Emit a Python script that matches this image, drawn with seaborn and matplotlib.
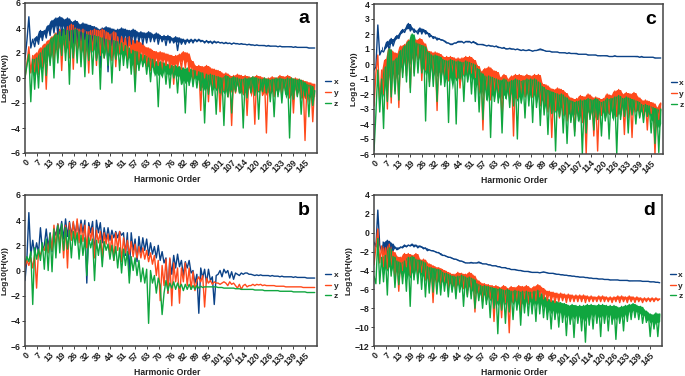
import matplotlib
matplotlib.use("Agg")
import matplotlib.pyplot as plt
import numpy as np
import pandas as pd
import seaborn as sns

# values read per harmonic off the picture
a_x = [1.5,3.0,4.9,2.4,3.1,2.5,3.3,2.7,3.8,3.0,
       3.8,3.2,4.2,3.4,4.6,3.6,4.8,3.5,4.9,3.4,
       4.7,3.5,4.8,3.0,4.5,2.8,4.6,2.7,4.3,3.0,
       4.4,3.1,4.3,2.2,4.2,2.8,4.1,1.6,3.9,0.8,
       4.0,2.4,4.1,0.5,4.0,2.6,3.9,1.4,3.9,2.8,
       4.0,2.9,3.9,2.6,3.8,2.7,3.9,2.8,3.7,2.9,
       3.7,2.7,3.6,2.8,3.7,2.9,3.5,2.9,3.6,2.7,
       3.4,2.9,3.4,2.6,3.4,2.8,3.2,2.8,3.3,2.2,
       3.2,2.7,3.1,2.7,3.1,2.8,3.1,2.8,3.1,2.9,
       3.1,2.9,3.0,2.8,3.0,2.8,2.95,2.75,2.95,2.8,
       2.9,2.8,2.85,2.75,2.85,2.75,2.8,2.7,2.8,2.75,
       2.75,2.7,2.75,2.7,2.7,2.65,2.7,2.65,2.65,2.6,
       2.65,2.6,2.6,2.6,2.6,2.55,2.6,2.55,2.55,2.55,
       2.55,2.5,2.55,2.5,2.5,2.5,2.5,2.5,2.5,2.45,
       2.5,2.45,2.45,2.45,2.45,2.45,2.45,2.4,2.4,2.4,2.4]
a_y = [0.0,1.2,2.5,0.4,1.8,0.5,2.0,0.3,2.4,0.9,
       2.7,-0.9,3.0,1.5,3.3,1.2,3.6,1.6,3.9,0.6,
       3.8,2.0,4.1,1.6,4.3,0.7,4.0,2.0,3.9,1.8,
       3.9,1.0,3.7,0.4,3.8,2.2,3.9,1.0,3.8,1.8,
       3.9,1.6,3.7,2.0,3.5,1.4,3.7,0.9,3.3,2.0,
       3.3,2.2,3.2,1.5,3.3,2.0,3.0,-0.2,3.0,1.2,
       2.8,1.4,2.5,0.9,2.4,0.6,2.2,0.8,2.1,1.0,
       2.1,0.5,2.0,1.0,1.9,0.8,1.8,-0.5,1.8,0.9,
       1.9,0.7,2.1,0.8,2.0,0.5,1.4,-0.3,1.0,0.2,
       1.0,-2.6,0.9,0.0,1.0,-1.9,0.8,-1.0,0.7,-0.8,
       0.6,-2.7,0.4,-1.0,0.4,-1.5,0.2,-3.8,0.2,-1.2,
       0.3,-1.1,0.2,-1.3,0.2,-3.0,0.1,-1.1,0.1,-3.7,
       0.2,-1.0,0.1,-1.4,0.0,-4.4,0.0,-1.2,0.1,-1.5,
       0.0,-1.3,0.2,-1.5,0.1,-1.1,0.2,-1.6,0.0,-2.8,
       0.0,-1.4,-0.1,-1.6,-0.2,-5.0,-0.3,-1.3,-0.4,-3.5,-0.5]
a_z = [0.0,1.0,1.9,-1.9,1.5,-0.9,1.6,-0.8,2.0,-0.3,
       2.4,0.2,2.7,1.0,3.2,0.0,3.5,1.2,3.7,1.8,
       3.9,1.4,3.8,-0.5,3.8,1.6,3.9,1.2,3.7,0.9,
       3.6,0.1,3.5,1.4,3.4,0.3,3.4,1.4,3.3,-0.9,
       3.2,1.6,3.1,1.0,3.0,-0.4,3.0,1.5,2.9,0.6,
       2.8,1.0,2.6,0.8,2.4,0.3,2.2,-1.1,2.1,0.6,
       1.9,0.9,1.8,0.3,1.6,-0.3,1.5,0.4,1.3,-2.3,
       1.3,0.2,1.2,-0.5,1.1,-0.8,1.0,0.0,1.0,-1.2,
       0.9,-0.5,0.8,-2.8,0.8,-0.6,0.7,-0.7,0.6,-0.8,
       0.5,-1.0,0.4,-3.6,0.3,-1.3,0.3,-1.4,0.2,-2.9,
       0.1,-1.2,0.0,-3.8,0.2,-1.5,0.0,-2.8,0.1,-1.1,
       0.0,-1.2,-0.1,-4.0,0.0,-1.6,0.0,-1.2,0.1,-1.4,
       0.0,-3.3,-0.1,-1.1,0.0,-1.2,-0.1,-1.9,-0.1,-3.1,
       0.0,-1.5,0.0,-2.0,-0.1,-1.3,0.0,-4.8,0.0,-1.7,
       -0.1,-1.5,-0.1,-2.9,-0.3,-1.4,-0.5,-3.1,-0.6,-2.2,-1.0]

b_x = [-0.8,1.0,4.6,1.2,2.4,1.3,2.2,1.4,3.4,1.6,
       2.0,3.3,1.8,3.0,1.5,3.2,2.8,3.7,2.9,3.9,
       2.5,4.1,2.7,3.9,2.8,3.8,2.9,3.9,2.8,4.0,
       3.0,4.0,-1.0,3.8,3.0,3.9,1.2,4.0,3.0,3.8,
       2.2,3.4,2.4,3.4,2.4,3.2,2.6,3.1,2.6,3.1,
       2.8,3.0,1.2,3.0,-0.4,3.0,1.6,2.5,0.7,2.7,
       1.4,2.6,1.6,2.5,1.2,2.2,1.3,1.9,1.0,2.0,
       0.8,1.5,0.6,1.0,-1.8,0.9,-0.3,1.2,0.2,1.3,
       0.3,0.8,-0.4,0.7,0.2,0.8,-0.2,0.0,-1.0,-0.3,
       -3.4,0.2,-0.6,0.1,-1.0,0.1,-0.8,-0.5,-2.7,-0.4,
       -0.3,0.0,-0.5,0.1,-0.2,0.0,-0.6,-0.1,-0.7,-0.2,
       -0.3,-0.4,-0.2,-0.3,-0.2,-0.2,-0.3,-0.3,-0.35,-0.4,
       -0.35,-0.4,-0.35,-0.4,-0.4,-0.4,-0.4,-0.45,-0.4,-0.45,
       -0.45,-0.45,-0.5,-0.45,-0.5,-0.5,-0.5,-0.5,-0.5,-0.55,
       -0.5,-0.55,-0.55,-0.55,-0.55,-0.55,-0.6,-0.6,-0.6,-0.6,-0.6]
b_y = [0.3,0.8,0.4,1.0,0.2,1.3,-1.4,1.6,1.2,1.8,
       1.6,2.3,1.4,2.8,1.6,3.6,1.8,3.7,2.0,3.5,
       1.0,3.6,0.2,3.8,2.4,3.9,2.4,4.1,2.2,3.7,
       2.3,3.6,1.8,3.5,2.4,3.4,1.0,3.2,2.2,3.1,
       0.9,3.0,2.1,2.9,1.4,2.8,0.8,3.0,1.6,3.1,
       0.7,2.6,1.4,2.4,1.3,2.3,1.1,2.1,1.0,1.9,
       1.0,1.8,0.9,1.6,0.7,1.4,0.5,1.2,-0.4,0.8,
       -2.4,0.4,-1.2,0.9,-1.8,1.0,-2.8,0.6,-0.9,0.2,
       -2.6,0.2,-0.9,0.6,-1.2,0.2,-1.5,-0.1,-1.6,-0.8,
       -0.5,-0.9,-0.4,-2.9,-0.6,-1.0,-0.8,-1.1,-0.9,-1.0,
       -1.0,-1.1,-1.0,-0.9,-1.0,-1.2,-0.9,-1.1,-1.0,-1.2,
       -1.4,-1.1,-1.5,-1.2,-1.1,-1.3,-1.2,-1.2,-1.1,-1.2,
       -1.1,-1.15,-1.1,-1.2,-1.15,-1.2,-1.2,-1.2,-1.2,-1.2,
       -1.25,-1.25,-1.25,-1.25,-1.25,-1.3,-1.3,-1.3,-1.3,-1.3,
       -1.3,-1.3,-1.3,-1.3,-1.35,-1.35,-1.35,-1.35,-1.35,-1.35,-1.35]
b_z = [0.6,1.1,0.7,1.5,-2.7,1.8,0.9,1.7,0.8,2.2,
       0.1,2.5,0.0,2.9,-0.1,3.3,1.0,3.6,1.4,3.7,
       1.6,3.4,1.7,3.2,1.0,3.1,2.0,3.0,0.9,2.8,
       1.2,2.6,-0.4,2.6,1.8,2.5,-0.8,2.4,1.2,2.4,
       0.3,2.3,1.6,2.1,0.9,2.0,0.8,1.9,0.2,1.8,
       -0.2,1.7,0.4,1.5,-1.0,1.1,0.0,1.0,-0.4,0.8,
       -0.9,0.2,-1.0,0.1,-4.2,0.0,-1.0,-0.4,-1.8,-0.6,
       -1.2,-3.5,-1.8,-0.8,-1.6,-1.0,-1.4,-0.9,-1.5,-1.0,
       -1.4,-1.1,-1.6,-1.1,-1.5,-1.1,-1.5,-1.2,-1.5,-1.2,
       -1.4,-1.25,-1.35,-1.3,-1.3,-1.3,-1.3,-1.3,-1.3,-1.3,
       -1.35,-1.35,-1.35,-1.4,-1.4,-1.4,-1.4,-1.4,-1.4,-1.45,
       -1.45,-1.45,-1.5,-1.5,-1.5,-1.5,-1.5,-1.5,-1.5,-1.55,
       -1.55,-1.55,-1.55,-1.55,-1.6,-1.6,-1.6,-1.6,-1.6,-1.6,
       -1.6,-1.6,-1.65,-1.65,-1.65,-1.65,-1.65,-1.65,-1.65,-1.7,
       -1.7,-1.7,-1.7,-1.7,-1.7,-1.7,-1.75,-1.75,-1.75,-1.75,-1.75]

c_x = [-0.4,-0.2,2.6,0.6,0.9,0.8,1.1,1.5,0.9,1.7,
       1.2,1.6,1.9,1.7,2.1,2.3,2.1,2.4,2.7,2.2,
       2.4,2.1,2.2,2.0,2.4,2.0,2.3,2.0,2.1,1.8,
       1.9,1.7,1.8,1.6,1.7,1.6,1.6,1.5,1.4,1.4,
       1.3,1.3,1.4,1.4,1.5,1.5,1.5,1.4,1.5,1.5,
       1.5,1.4,1.5,1.4,1.3,1.3,1.3,1.3,1.25,1.2,
       1.25,1.2,1.2,1.15,1.2,1.1,1.1,1.05,1.1,1.0,
       1.0,1.05,1.0,1.0,0.95,1.0,0.95,0.9,0.95,0.9,
       0.9,0.95,0.9,0.85,0.9,0.9,0.95,1.0,0.95,0.9,
       0.85,0.85,0.85,0.8,0.8,0.8,0.8,0.75,0.75,0.75,
       0.75,0.7,0.75,0.7,0.7,0.7,0.7,0.65,0.65,0.65,
       0.65,0.65,0.6,0.6,0.6,0.6,0.6,0.55,0.55,0.55,
       0.55,0.55,0.55,0.5,0.5,0.5,0.55,0.5,0.5,0.5,
       0.5,0.5,0.5,0.5,0.5,0.5,0.5,0.5,0.5,0.45,
       0.5,0.45,0.45,0.45,0.45,0.45,0.45,0.4,0.4,0.4,0.4]
c_y = [-2.8,-0.6,0.6,-2.6,-0.4,-2.0,0.3,-3.0,1.0,-2.6,
       0.8,-1.8,0.7,-2.9,1.2,-0.6,1.3,-0.8,1.6,-1.6,
       1.7,-0.6,1.6,0.3,1.7,-1.1,1.4,-0.4,0.9,-1.2,
       0.8,-0.8,0.8,-3.1,0.7,-1.2,0.5,-0.9,0.5,-1.1,
       0.5,-0.6,0.4,-0.9,0.4,-1.6,0.4,-0.7,0.5,-0.8,
       0.5,-0.6,0.3,-0.9,-0.1,-1.9,-0.5,-4.4,-0.3,-1.9,
       -0.2,-2.4,-0.4,-1.8,-0.5,-2.0,-0.9,-3.6,-0.7,-2.1,
       -1.0,-2.3,-0.8,-4.8,-0.7,-2.3,-0.7,-2.0,-0.8,-2.2,
       -0.7,-2.3,-0.8,-2.2,-0.7,-2.4,-0.7,-2.8,-1.3,-2.9,
       -1.4,-3.2,-1.6,-4.9,-1.7,-3.1,-1.6,-3.6,-1.7,-3.4,
       -1.9,-3.8,-2.2,-3.4,-2.3,-4.5,-2.3,-3.5,-2.1,-3.9,
       -2.2,-6.0,-2.0,-3.4,-2.2,-4.8,-2.2,-5.8,-2.3,-3.4,
       -2.3,-3.6,-2.0,-3.3,-2.1,-3.4,-1.8,-3.5,-1.7,-3.4,
       -2.0,-4.7,-1.9,-3.6,-2.0,-4.9,-1.9,-3.2,-2.2,-3.5,
       -2.4,-3.4,-2.4,-4.4,-2.5,-3.3,-2.6,-6.0,-2.9,-3.7,-2.6]
c_z = [-5.8,-3.3,-0.4,-3.2,-1.0,-4.3,-0.2,-2.5,1.0,-2.2,
       0.2,-2.0,0.4,-2.4,0.9,-0.9,1.2,-1.2,1.5,-1.9,
       2.0,-0.8,1.4,-0.6,1.3,-0.6,1.2,-3.8,0.8,-1.5,
       0.6,-1.5,0.6,-2.5,0.5,-1.4,0.3,-1.5,0.2,-3.9,
       0.3,-1.1,0.2,-4.0,0.2,-1.0,0.1,-2.5,0.2,-1.2,
       0.1,-2.0,0.0,-2.5,-0.3,-3.2,-0.6,-3.7,-0.8,-2.4,
       -0.8,-4.9,-0.9,-2.5,-1.0,-2.6,-1.1,-4.6,-1.0,-2.3,
       -1.2,-2.9,-1.1,-2.8,-1.0,-5.0,-1.1,-2.6,-1.1,-3.6,
       -1.0,-2.8,-1.0,-3.9,-1.0,-2.9,-1.2,-4.1,-1.5,-3.4,
       -1.7,-4.7,-1.8,-3.3,-1.9,-5.8,-2.0,-3.5,-2.0,-4.6,
       -2.2,-5.3,-2.4,-3.9,-2.5,-4.8,-2.5,-3.8,-2.4,-6.0,
       -2.4,-4.6,-2.3,-3.7,-2.4,-4.4,-2.3,-3.7,-2.5,-4.8,
       -2.5,-3.8,-2.3,-5.0,-2.3,-3.6,-2.2,-6.0,-2.1,-3.7,
       -2.3,-3.5,-2.2,-4.6,-2.3,-3.4,-2.4,-4.0,-2.5,-3.6,
       -2.7,-3.9,-2.7,-3.5,-2.8,-4.6,-2.9,-5.3,-3.0,-5.9,-3.0]

d_x = [-1.0,-1.5,2.4,-1.3,-2.0,-1.0,-2.1,-0.8,-1.9,-1.1,
       -1.9,-1.5,-1.8,-1.7,-1.5,-1.6,-1.3,-1.5,-1.3,-1.4,
       -1.2,-1.5,-1.3,-1.6,-1.4,-1.5,-1.7,-1.6,-1.9,-1.8,
       -1.9,-1.9,-2.0,-2.1,-2.1,-2.3,-2.4,-2.4,-2.5,-2.6,
       -2.6,-2.7,-2.8,-2.8,-2.9,-3.0,-3.0,-3.1,-3.2,-3.2,
       -3.2,-3.15,-3.2,-3.2,-3.2,-3.1,-3.2,-3.3,-3.3,-3.3,
       -3.4,-3.4,-3.5,-3.5,-3.5,-3.6,-3.6,-3.7,-3.7,-3.7,
       -3.8,-3.8,-3.9,-3.9,-3.9,-3.95,-4.0,-4.0,-4.05,-4.1,
       -4.1,-4.1,-4.15,-4.2,-4.2,-4.2,-4.2,-4.25,-4.2,-4.15,
       -4.2,-4.25,-4.3,-4.3,-4.3,-4.35,-4.4,-4.4,-4.45,-4.45,
       -4.5,-4.5,-4.55,-4.55,-4.6,-4.6,-4.65,-4.65,-4.7,-4.7,
       -4.7,-4.75,-4.75,-4.8,-4.8,-4.85,-4.85,-4.85,-4.9,-4.9,
       -4.9,-4.95,-4.95,-4.95,-5.0,-5.0,-5.0,-5.0,-5.0,-5.05,
       -5.05,-5.05,-5.05,-5.05,-5.1,-5.1,-5.1,-5.1,-5.1,-5.1,
       -5.1,-5.15,-5.15,-5.15,-5.15,-5.2,-5.2,-5.2,-5.25,-5.25,-5.3]
d_y = [-3.4,-1.5,0.4,-3.2,-1.4,-3.6,-1.6,-3.8,-1.2,-3.5,
       -2.0,-5.2,-2.5,-6.2,-2.6,-4.0,-2.2,-3.6,-2.2,-4.5,
       -2.4,-4.6,-2.2,-4.4,-2.8,-4.2,-2.8,-5.0,-3.2,-5.6,
       -3.4,-7.4,-3.6,-5.4,-3.7,-5.6,-3.9,-5.2,-4.1,-5.9,
       -4.3,-6.0,-4.4,-6.2,-4.2,-5.5,-4.3,-5.9,-4.4,-6.6,
       -4.2,-6.1,-4.5,-8.4,-5.0,-6.4,-5.3,-7.3,-5.4,-7.2,
       -5.5,-7.0,-5.6,-9.4,-5.6,-7.2,-5.8,-9.0,-5.6,-7.4,
       -5.9,-10.6,-5.7,-7.4,-5.8,-7.2,-5.6,-8.5,-5.7,-7.0,
       -5.6,-7.5,-5.9,-7.0,-5.7,-7.2,-5.5,-6.8,-5.8,-7.0,
       -6.1,-7.2,-6.2,-7.3,-6.3,-7.4,-6.4,-7.3,-6.4,-7.2,
       -6.5,-7.4,-6.5,-7.3,-6.6,-7.3,-6.6,-7.3,-6.6,-7.3,
       -6.6,-7.4,-6.7,-7.3,-6.7,-7.3,-6.8,-7.3,-6.7,-7.3,
       -6.7,-7.3,-6.8,-7.3,-6.8,-7.4,-6.8,-7.3,-6.7,-7.4,
       -6.7,-7.3,-6.8,-7.4,-6.7,-7.3,-6.8,-7.4,-6.8,-7.3,
       -6.9,-7.4,-6.9,-7.3,-6.9,-7.3,-6.9,-7.3,-6.9,-7.2,-7.0]
d_z = [-4.6,-5.4,-0.6,-5.4,-2.6,-5.2,-2.4,-6.6,-1.6,-4.6,
       -2.5,-5.8,-3.0,-5.5,-3.2,-5.4,-3.0,-6.2,-2.6,-7.8,
       -2.5,-5.0,-2.8,-5.4,-2.9,-6.0,-3.1,-6.8,-3.6,-6.4,
       -3.7,-6.3,-3.8,-6.5,-3.9,-6.6,-4.2,-6.2,-4.3,-6.8,
       -4.5,-6.3,-4.6,-7.0,-4.6,-6.3,-4.5,-7.8,-4.7,-6.8,
       -4.7,-7.0,-4.9,-8.0,-5.4,-7.2,-5.6,-8.0,-5.6,-7.6,
       -5.7,-9.0,-5.8,-8.0,-5.9,-10.7,-5.9,-8.2,-6.1,-9.6,
       -6.0,-8.4,-6.2,-9.2,-6.1,-8.2,-6.2,-9.8,-6.2,-8.5,
       -6.2,-8.8,-6.3,-8.6,-6.2,-9.4,-6.1,-8.6,-6.5,-9.0,
       -6.9,-9.2,-7.1,-10.2,-7.2,-9.2,-7.3,-10.0,-7.4,-9.5,
       -7.5,-10.9,-7.7,-9.7,-7.6,-11.1,-7.7,-9.6,-7.7,-10.4,
       -7.7,-11.6,-7.6,-9.8,-7.6,-10.2,-7.7,-9.6,-7.6,-11.0,
       -7.6,-9.6,-7.7,-10.4,-7.7,-9.7,-7.7,-11.3,-7.9,-9.6,
       -7.8,-10.4,-7.7,-9.4,-7.6,-9.2,-7.5,-9.0,-7.7,-9.2,
       -7.8,-9.6,-8.2,-9.5,-8.5,-11.0,-8.7,-10.2,-8.5,-11.0,-8.6]

tick_labels = ["0","7","13","19","26","32","38","44","51","57","63","70",
               "76","82","89","95","101","107","114","120","126","133","139","145"]

BLUE, RED, GREEN = "#0b4287", "#ff4a1c", "#10a63f"
W, H = 685, 376

sns.set_style("white")
plt.rcParams["font.family"] = ["Liberation Sans", "DejaVu Sans"]
plt.rcParams["font.weight"] = "bold"

fig = plt.figure(figsize=(W / 100, H / 100), dpi=100)

panels = [
    ("a", a_x, a_y, a_z, (-6, 6), range(-6, 7, 2), "Log10(H(w))", (25, 3, 317, 153)),
    ("b", b_x, b_y, b_z, (-6, 6), range(-6, 7, 2), "Log10(H(w))", (25, 195, 317, 346)),
    ("c", c_x, c_y, c_z, (-6, 4), range(-6, 5, 1), "Log10  (H(w))", (374, 4, 663, 154)),
    ("d", d_x, d_y, d_z, (-12, 4), range(-12, 5, 2), "Log10(H(w))", (374, 195, 662, 346)),
]

for letter, xs, ys, zs, ylim, yticks, ylabel, box in panels:
    l, t, r, b = box
    ax = fig.add_axes([l / W, 1 - b / H, (r - l) / W, (b - t) / H])

    for name, vals, col in [("x", xs, BLUE), ("y", ys, RED), ("z", zs, GREEN)]:
        h = np.arange(len(vals))
        sns.lineplot(x=h, y=vals, ax=ax, color=col, label=name,
                     linewidth=1.0, estimator=None, errorbar=None)
        # the trace is so dense in the original that its upper part reads as a solid band
        # panel b is sparser, and the first few harmonics are single spikes
        if letter != "b":
            s = pd.Series(vals)
            top = s.rolling(3, center=True, min_periods=1).max()
            mid = s.rolling(5, center=True, min_periods=1).mean()
            ax.fill_between(h[4:], mid[4:], top[4:], color=col, linewidth=0)

    ax.set_xlim(0, 151.2)
    ax.set_ylim(*ylim)
    ax.set_yticks(list(yticks))
    ax.set_xticks(np.arange(len(tick_labels)) * 6.3)
    ax.set_xticklabels(tick_labels, rotation=45, ha="right", rotation_mode="anchor")
    ax.tick_params(axis="both", labelsize=6.2, length=2, width=0.6, pad=1.2,
                   bottom=True, left=True, colors="#222222")
    ax.set_xlabel("Harmonic Order", fontsize=6.2, fontweight="bold", color="#222222")
    ax.xaxis.set_label_coords(0.486, -22 / (b - t))
    ax.set_ylabel(ylabel, fontsize=6.0, fontweight="bold", labelpad=1.5, color="#222222")
    for sp in ax.spines.values():
        sp.set_color("#444444")
        sp.set_linewidth(1.1)

    ax.text(0.975, 0.955, letter, transform=ax.transAxes, ha="right", va="top",
            fontsize=14, fontweight="bold", color="black")
    ax.legend(loc="center left", bbox_to_anchor=(1.028, 0.40), frameon=False, fontsize=6.0,
              handlelength=0.75, handletextpad=0.25, labelspacing=0.35, borderpad=0, borderaxespad=0)

fig.savefig("out.png", dpi=100)
